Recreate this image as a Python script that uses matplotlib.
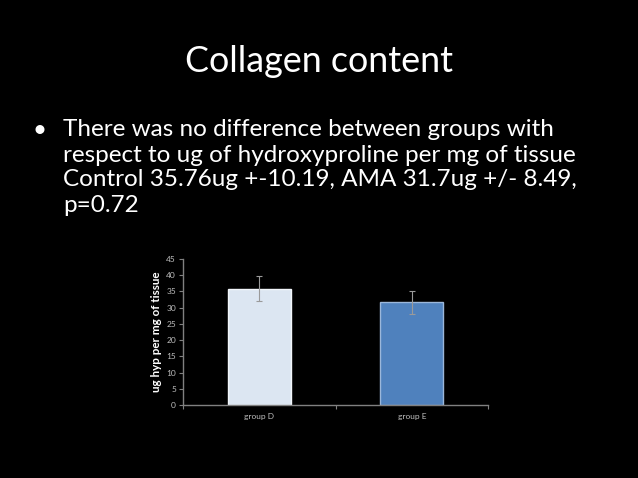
import matplotlib.pyplot as plt

# Data
groups = ['group D', 'group E']
values = [35.76, 31.7]
errors = [3.85, 3.5]
bar_colors = ['#DCE6F2', '#4F81BD']
edge_colors = ['#F2F6FB', '#9BB7DA']
y_ticks = list(range(0, 50, 5))

title = 'Collagen content'
bullet_lines = [
    'There was no difference between groups with',
    'respect to ug of hydroxyproline per mg of tissue',
    'Control 35.76ug +-10.19, AMA 31.7ug +/- 8.49,',
    'p=0.72',
]

plt.rcParams['font.family'] = ['Lato', 'DejaVu Sans']

fig = plt.figure(figsize=(6.38, 4.78), dpi=100)
fig.patch.set_facecolor('black')

# Slide title and bullet text
fig.text(0.5, 1 - 62 / 478, title, color='white', fontsize=25.8,
         ha='center', va='center')
fig.text(40 / 638, 1 - 130 / 478, '\u2022', color='white', fontsize=17.5,
         ha='center', va='center')
for i, line in enumerate(bullet_lines):
    fig.text(63 / 638, 1 - (130 + 25 * i) / 478, line, color='white',
             fontsize=17.5, ha='left', va='center')

# Bar chart
ax = fig.add_axes([183 / 638, 1 - 405 / 478, 305 / 638, 146 / 478])
ax.set_facecolor('black')
x = list(range(len(groups)))
ax.bar(x, values, width=0.41, color=bar_colors, edgecolor=edge_colors,
       linewidth=1.0, zorder=2)
ax.errorbar(x, values, yerr=errors, fmt='none', ecolor='#9a9a9a',
            elinewidth=0.8, capsize=2, capthick=0.8, zorder=3)

ax.set_xlim(-0.5, 1.5)
ax.set_ylim(0, 45)
ax.set_yticks(y_ticks)
ax.set_xticks(x)
ax.set_xticklabels(groups)
ax.set_xticks([-0.5, 0.5, 1.5], minor=True)

for side in ['top', 'right']:
    ax.spines[side].set_visible(False)
for side in ['left', 'bottom']:
    ax.spines[side].set_color('#808080')
    ax.spines[side].set_linewidth(1.0)

ax.tick_params(axis='y', colors='#808080', labelcolor='#bfbfbf',
               labelsize=6, length=3, width=0.8, pad=2)
ax.tick_params(axis='x', which='major', length=0, labelcolor='#bfbfbf',
               labelsize=6, pad=6)
ax.tick_params(axis='x', which='minor', colors='#808080', length=3, width=0.8)

ax.set_ylabel('ug hyp per mg of tissue', color='white', fontsize=8.4,
              fontweight='bold', labelpad=3)

fig.savefig('out.png', dpi=100, facecolor='black')
